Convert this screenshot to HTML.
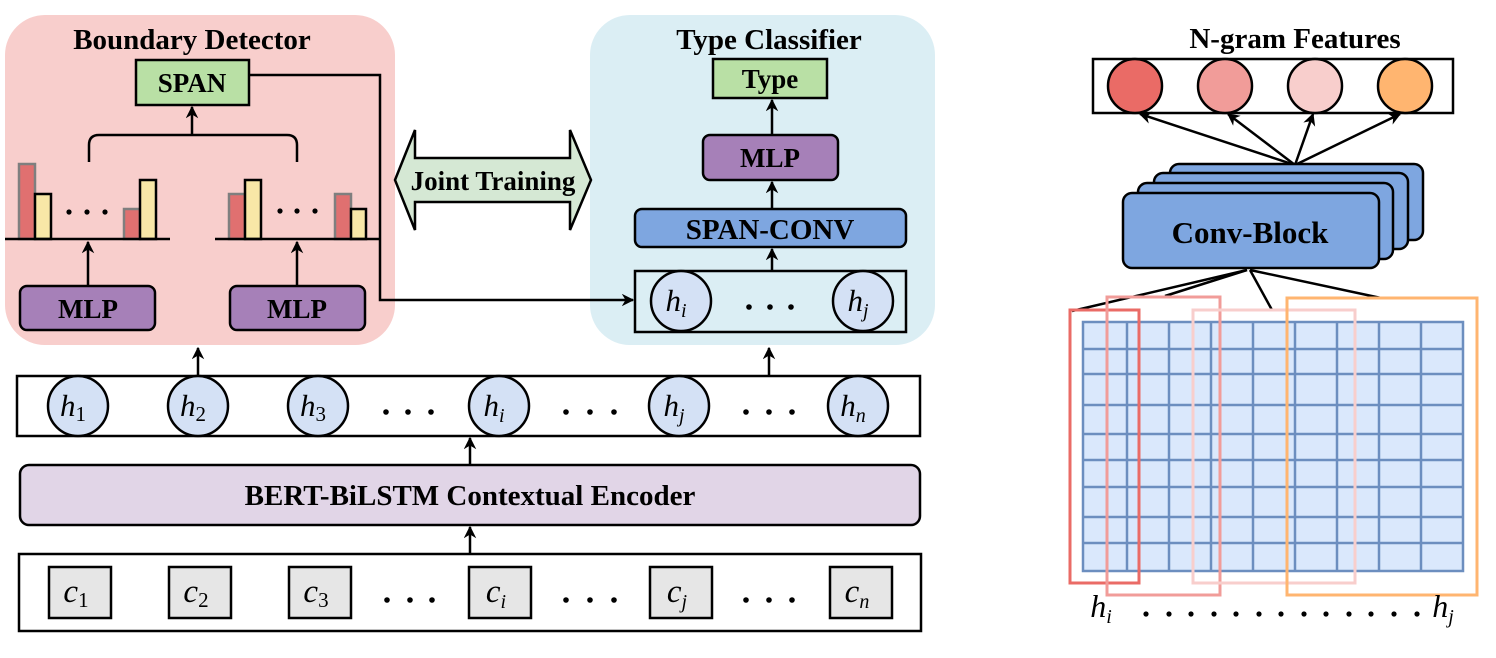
<!DOCTYPE html>
<html><head><meta charset="utf-8"><style>
html,body{margin:0;padding:0;background:#fff;}
svg{display:block}
.t{font-family:"Liberation Serif","DejaVu Serif",serif;font-weight:bold;fill:#000}
.m{font-family:"Liberation Serif","DejaVu Serif",serif;font-style:italic;fill:#000}
</style></head><body>
<svg width="1496" height="658" viewBox="0 0 1496 658" xmlns="http://www.w3.org/2000/svg">
<defs>
<marker id="a" viewBox="0 0 10 10" refX="9" refY="5" markerWidth="5" markerHeight="5" orient="auto"><path d="M0,0 L10,5 L0,10 L3,5 z" fill="#000"/></marker>
</defs>
<!-- panels -->
<rect x="5" y="15" width="390" height="330" rx="40" fill="#f8cecc"/>
<rect x="590" y="15" width="345" height="330" rx="40" fill="#dbeef4"/>
<text class="t" x="192" y="49" font-size="29" text-anchor="middle">Boundary Detector</text>
<text class="t" x="769" y="49" font-size="29" text-anchor="middle">Type Classifier</text>
<!-- SPAN -->
<rect x="136" y="60" width="113" height="45" fill="#b9e0a5" stroke="#000" stroke-width="2.5"/>
<text class="t" x="192" y="92" font-size="27" text-anchor="middle">SPAN</text>
<line x1="192" y1="135" x2="192" y2="107" stroke="#000" stroke-width="2.5" marker-end="url(#a)"/>
<path d="M89,162 V145 Q89,135 99,135 H287 Q297,135 297,145 V162" fill="none" stroke="#000" stroke-width="2.5"/>
<!-- bars -->
<g stroke-width="2.5">
<rect x="19" y="164" width="16" height="75" fill="#e07070" stroke="#7f7f7f"/>
<rect x="35" y="194" width="16" height="45" fill="#f8e7a7" stroke="#000"/>
<rect x="124" y="209" width="16" height="30" fill="#e07070" stroke="#7f7f7f"/>
<rect x="140" y="180" width="16" height="59" fill="#f8e7a7" stroke="#000"/>
<rect x="229" y="194" width="16" height="45" fill="#e07070" stroke="#7f7f7f"/>
<rect x="245" y="180" width="16" height="59" fill="#f8e7a7" stroke="#000"/>
<rect x="335" y="194" width="16" height="45" fill="#e07070" stroke="#7f7f7f"/>
<rect x="351" y="209" width="15" height="30" fill="#f8e7a7" stroke="#000"/>
</g>
<line x1="5" y1="239" x2="170" y2="239" stroke="#000" stroke-width="2.5"/>
<line x1="215" y1="239" x2="380" y2="239" stroke="#000" stroke-width="2.5"/>
<g fill="#000"><circle cx="69" cy="212" r="2.6"/><circle cx="87" cy="212" r="2.6"/><circle cx="105" cy="212" r="2.6"/>
<circle cx="280" cy="211" r="2.6"/><circle cx="297" cy="211" r="2.6"/><circle cx="315" cy="211" r="2.6"/></g>
<!-- MLPs -->
<rect x="20" y="286" width="135" height="44" rx="7" fill="#a680b8" stroke="#000" stroke-width="2.5"/>
<text class="t" x="88" y="318" font-size="27" text-anchor="middle">MLP</text>
<rect x="230" y="286" width="135" height="44" rx="7" fill="#a680b8" stroke="#000" stroke-width="2.5"/>
<text class="t" x="297" y="318" font-size="27" text-anchor="middle">MLP</text>
<line x1="88" y1="286" x2="88" y2="242" stroke="#000" stroke-width="2.5" marker-end="url(#a)"/>
<line x1="297" y1="286" x2="297" y2="242" stroke="#000" stroke-width="2.5" marker-end="url(#a)"/>
<!-- connector span -> hi -->
<polyline points="249,75 380,75 380,300 633,300" fill="none" stroke="#000" stroke-width="2.5" marker-end="url(#a)"/>
<!-- joint training -->
<path d="M395,180 L415,130 L415,158 L570,158 L570,130 L591,180 L570,230 L570,202 L415,202 L415,230 Z" fill="#d5e8d4" stroke="#000" stroke-width="2.5"/>
<text class="t" x="493" y="190" font-size="27" text-anchor="middle">Joint Training</text>
<!-- type classifier -->
<rect x="713" y="59" width="114" height="39" fill="#b9e0a5" stroke="#000" stroke-width="2.5"/>
<text class="t" x="770" y="88" font-size="27" text-anchor="middle">Type</text>
<line x1="772" y1="135" x2="772" y2="100" stroke="#000" stroke-width="2.5" marker-end="url(#a)"/>
<rect x="703" y="135" width="135" height="45" rx="7" fill="#a680b8" stroke="#000" stroke-width="2.5"/>
<text class="t" x="770" y="167" font-size="27" text-anchor="middle">MLP</text>
<line x1="772" y1="209" x2="772" y2="182" stroke="#000" stroke-width="2.5" marker-end="url(#a)"/>
<rect x="635" y="209" width="271" height="38" rx="7" fill="#7ea6e0" stroke="#000" stroke-width="2.5"/>
<text class="t" x="770" y="239" font-size="29" text-anchor="middle">SPAN-CONV</text>
<line x1="772" y1="271" x2="772" y2="249" stroke="#000" stroke-width="2.5" marker-end="url(#a)"/>
<rect x="635" y="271" width="271" height="61" fill="none" stroke="#000" stroke-width="2.5"/>
<circle cx="681" cy="301" r="30" fill="#d4e1f5" stroke="#000" stroke-width="2.5"/>
<circle cx="863" cy="301" r="30" fill="#d4e1f5" stroke="#000" stroke-width="2.5"/>
<text class="m" x="676" y="311" font-size="31" text-anchor="middle">h<tspan font-size="20" dy="6">i</tspan></text>
<text class="m" x="858" y="311" font-size="31" text-anchor="middle">h<tspan font-size="20" dy="6">j</tspan></text>
<g fill="#000"><circle cx="749" cy="307" r="2.8"/><circle cx="770" cy="307" r="2.8"/><circle cx="791" cy="307" r="2.8"/></g>
<!-- h row -->
<line x1="198" y1="376" x2="198" y2="348" stroke="#000" stroke-width="2.5" marker-end="url(#a)"/>
<line x1="769" y1="376" x2="769" y2="348" stroke="#000" stroke-width="2.5" marker-end="url(#a)"/>
<rect x="17" y="376" width="903" height="60" fill="#fff" stroke="#000" stroke-width="2.5"/>
<g stroke="#000" stroke-width="2.5" fill="#d4e1f5">
<circle cx="78" cy="406" r="30"/><circle cx="198" cy="406" r="30"/><circle cx="318" cy="406" r="30"/>
<circle cx="499" cy="406" r="30"/><circle cx="679" cy="406" r="30"/><circle cx="858" cy="406" r="30"/></g>
<g font-size="31" text-anchor="middle">
<text class="m" x="73" y="416">h<tspan font-size="21" dy="5" font-style="normal">1</tspan></text>
<text class="m" x="193" y="416">h<tspan font-size="21" dy="5" font-style="normal">2</tspan></text>
<text class="m" x="313" y="416">h<tspan font-size="21" dy="5" font-style="normal">3</tspan></text>
<text class="m" x="494" y="416">h<tspan font-size="20" dy="6">i</tspan></text>
<text class="m" x="674" y="416">h<tspan font-size="20" dy="6">j</tspan></text>
<text class="m" x="853" y="416">h<tspan font-size="20" dy="6">n</tspan></text>
</g>
<g fill="#000">
<circle cx="386" cy="412" r="2.8"/><circle cx="408" cy="412" r="2.8"/><circle cx="431" cy="412" r="2.8"/>
<circle cx="566" cy="412" r="2.8"/><circle cx="590" cy="412" r="2.8"/><circle cx="614" cy="412" r="2.8"/>
<circle cx="746" cy="412" r="2.8"/><circle cx="769" cy="412" r="2.8"/><circle cx="792" cy="412" r="2.8"/>
</g>
<line x1="470" y1="465" x2="470" y2="438" stroke="#000" stroke-width="2.5" marker-end="url(#a)"/>
<rect x="20" y="465" width="900" height="60" rx="9" fill="#e1d5e7" stroke="#000" stroke-width="2.5"/>
<text class="t" x="470" y="505" font-size="29" text-anchor="middle">BERT-BiLSTM Contextual Encoder</text>
<line x1="470" y1="554" x2="470" y2="527" stroke="#000" stroke-width="2.5" marker-end="url(#a)"/>
<rect x="19" y="554" width="902" height="77" fill="#fff" stroke="#000" stroke-width="2.5"/>
<g stroke="#000" stroke-width="2.5" fill="#e6e6e6">
<rect x="49" y="567" width="62" height="51"/><rect x="169" y="567" width="62" height="51"/><rect x="289" y="567" width="62" height="51"/>
<rect x="469" y="567" width="62" height="51"/><rect x="650" y="567" width="62" height="51"/><rect x="830" y="567" width="62" height="51"/></g>
<g font-size="33" text-anchor="middle">
<text class="m" x="76" y="602">c<tspan font-size="21" dy="5" font-style="normal">1</tspan></text>
<text class="m" x="196" y="602">c<tspan font-size="21" dy="5" font-style="normal">2</tspan></text>
<text class="m" x="316" y="602">c<tspan font-size="21" dy="5" font-style="normal">3</tspan></text>
<text class="m" x="496" y="602">c<tspan font-size="20" dy="6">i</tspan></text>
<text class="m" x="677" y="602">c<tspan font-size="20" dy="6">j</tspan></text>
<text class="m" x="857" y="602">c<tspan font-size="20" dy="6">n</tspan></text>
</g>
<g fill="#000">
<circle cx="387" cy="600" r="2.8"/><circle cx="410" cy="600" r="2.8"/><circle cx="432" cy="600" r="2.8"/>
<circle cx="566" cy="600" r="2.8"/><circle cx="590" cy="600" r="2.8"/><circle cx="614" cy="600" r="2.8"/>
<circle cx="746" cy="600" r="2.8"/><circle cx="769" cy="600" r="2.8"/><circle cx="792" cy="600" r="2.8"/>
</g>
<!-- right: N-gram -->
<text class="t" x="1295" y="48" font-size="29" text-anchor="middle">N-gram Features</text>
<rect x="1093" y="59" width="360" height="54" fill="#fff" stroke="#000" stroke-width="2.5"/>
<g stroke="#000" stroke-width="2.5">
<circle cx="1135" cy="86" r="27" fill="#ea6b66"/><circle cx="1225" cy="86" r="27" fill="#f19c99"/>
<circle cx="1315" cy="86" r="27" fill="#f8cecc"/><circle cx="1405" cy="86" r="27" fill="#ffb570"/></g>
<g stroke="#000" stroke-width="2.5" marker-end="url(#a)">
<line x1="1295" y1="165" x2="1140" y2="114"/><line x1="1295" y1="165" x2="1228" y2="114"/>
<line x1="1295" y1="165" x2="1313" y2="114"/><line x1="1295" y1="165" x2="1400" y2="114"/></g>
<!-- conv block stack -->
<g stroke="#000" stroke-width="2.5" fill="#7ea6e0">
<rect x="1170" y="164" width="253" height="76" rx="9"/>
<rect x="1154" y="173" width="254" height="76" rx="9"/>
<rect x="1138" y="183" width="255" height="76" rx="9"/>
<rect x="1123" y="193" width="256" height="75" rx="9"/>
</g>
<text class="t" x="1250" y="243" font-size="31" text-anchor="middle">Conv-Block</text>
<g stroke="#000" stroke-width="2.5">
<line x1="1247" y1="270" x2="1072" y2="311"/><line x1="1247" y1="270" x2="1165" y2="296"/>
<line x1="1250" y1="270" x2="1272" y2="310"/><line x1="1250" y1="270" x2="1381" y2="298"/></g>
<!-- grid -->
<rect x="1083" y="322" width="380" height="249" fill="#dae8fc"/>
<g stroke="#6c8ebf" stroke-width="2.5" fill="none">
<rect x="1083" y="322" width="380" height="249"/>
<path d="M1127,322V571M1169,322V571M1211,322V571M1253,322V571M1295,322V571M1337,322V571M1379,322V571M1421,322V571"/>
<path d="M1083,349H1463M1083,374H1463M1083,405H1463M1083,434H1463M1083,460H1463M1083,487H1463M1083,517H1463M1083,543H1463"/>
</g>
<g fill="none" stroke-width="3">
<rect x="1070" y="310" width="69" height="273" stroke="#ea6b66"/>
<rect x="1107" y="297" width="113" height="298" stroke="#f19c99"/>
<rect x="1193" y="310" width="162" height="273" stroke="#f8cecc"/>
<rect x="1287" y="298" width="190" height="297" stroke="#ffb570"/>
</g>
<text class="m" x="1101" y="617" font-size="32" text-anchor="middle">h<tspan font-size="20" dy="6">i</tspan></text>
<text class="m" x="1443" y="617" font-size="32" text-anchor="middle">h<tspan font-size="20" dy="6">j</tspan></text>
<g fill="#000">
<circle cx="1146" cy="614" r="2.6"/><circle cx="1169" cy="614" r="2.6"/><circle cx="1191" cy="614" r="2.6"/>
<circle cx="1214" cy="614" r="2.6"/><circle cx="1236" cy="614" r="2.6"/><circle cx="1259" cy="614" r="2.6"/>
<circle cx="1281" cy="614" r="2.6"/><circle cx="1304" cy="614" r="2.6"/><circle cx="1326" cy="614" r="2.6"/>
<circle cx="1349" cy="614" r="2.6"/><circle cx="1371" cy="614" r="2.6"/><circle cx="1394" cy="614" r="2.6"/>
<circle cx="1417" cy="614" r="2.6"/></g>
</svg>
</body></html>
